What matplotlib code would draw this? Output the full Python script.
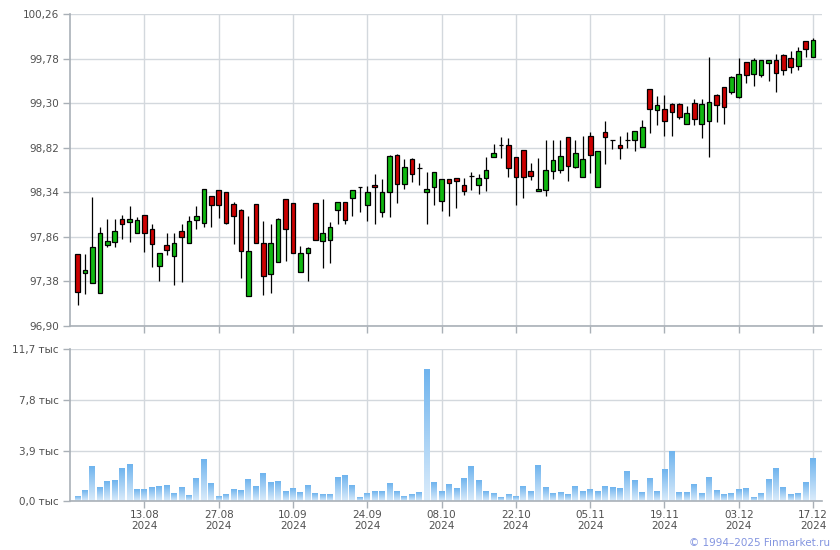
import numpy as np
import pandas as pd
import matplotlib
matplotlib.use('Agg')
import matplotlib.pyplot as plt
from matplotlib.colors import LinearSegmentedColormap

# -------------------------------
# Данные (цены и объёмы)
# -------------------------------

open_ = [97.68, 97.47, 97.36, 97.26, 97.77, 97.81, 98.05, 98.02, 97.90, 98.09,
         97.94, 97.55, 97.77, 97.65, 97.92, 97.79, 98.04, 98.01, 98.30, 98.36,
         98.34, 98.21, 98.15, 97.22, 98.21, 97.79, 97.46, 97.59, 98.27, 98.22,
         97.48, 97.69, 98.22, 97.82, 97.83, 98.15, 98.24, 98.28, 98.40, 98.20,
         98.42, 98.13, 98.34, 98.74, 98.43, 98.70, 98.60, 98.34, 98.40, 98.25,
         98.48, 98.49, 98.42, 98.52, 98.42, 98.49, 98.72, 98.85, 98.85, 98.72,
         98.80, 98.57, 98.35, 98.37, 98.57, 98.58, 98.93, 98.61, 98.51, 98.95,
         98.40, 98.99, 98.90, 98.85, 98.90, 98.90, 98.83, 99.45, 99.23, 99.24,
         99.29, 99.29, 99.08, 99.30, 99.08, 99.11, 99.39, 99.47, 99.42, 99.37,
         99.74, 99.61, 99.60, 99.73, 99.77, 99.82, 99.79, 99.70, 99.97, 99.80]
high = [97.68, 97.68, 98.29, 97.97, 98.05, 98.05, 98.10, 98.19, 98.07, 98.09,
        98.00, 97.69, 97.90, 97.90, 98.00, 98.08, 98.19, 98.38, 98.30, 98.36,
        98.34, 98.24, 98.16, 98.09, 98.21, 98.03, 98.00, 98.06, 98.27, 98.22,
        97.76, 97.75, 98.22, 98.27, 98.02, 98.23, 98.24, 98.37, 98.40, 98.41,
        98.54, 98.48, 98.74, 98.75, 98.70, 98.71, 98.66, 98.56, 98.56, 98.48,
        98.48, 98.49, 98.49, 98.56, 98.54, 98.72, 98.86, 98.94, 98.93, 98.72,
        98.80, 98.66, 98.71, 98.90, 98.90, 98.90, 98.93, 98.90, 98.95, 98.99,
        98.79, 99.11, 98.90, 98.95, 98.99, 99.00, 99.12, 99.45, 99.38, 99.39,
        99.30, 99.30, 99.27, 99.34, 99.35, 99.80, 99.40, 99.47, 99.59, 99.79,
        99.74, 99.79, 99.77, 99.77, 99.83, 99.83, 99.86, 99.91, 99.97, 100.00]
low = [97.13, 97.24, 97.36, 97.26, 97.75, 97.75, 97.84, 97.81, 97.90, 97.70,
       97.54, 97.39, 97.67, 97.34, 97.37, 97.79, 97.94, 97.97, 97.97, 98.06,
       98.00, 97.78, 97.42, 97.22, 97.79, 97.23, 97.26, 97.59, 97.60, 97.69,
       97.48, 97.39, 97.83, 97.53, 97.58, 98.00, 98.00, 98.08, 98.13, 98.03,
       98.00, 98.07, 98.07, 98.22, 98.38, 98.45, 98.42, 98.00, 98.20, 98.14,
       98.09, 98.17, 98.31, 98.36, 98.32, 98.35, 98.72, 98.71, 98.50, 98.20,
       98.28, 98.47, 98.35, 98.30, 98.48, 98.55, 98.46, 98.60, 98.51, 98.55,
       98.40, 98.64, 98.81, 98.70, 98.82, 98.79, 98.83, 98.98, 99.06, 98.95,
       98.95, 99.13, 99.08, 99.06, 98.93, 98.72, 99.10, 99.08, 99.40, 99.36,
       99.52, 99.49, 99.58, 99.54, 99.42, 99.60, 99.62, 99.66, 99.80, 99.80]
close = [97.27, 97.50, 97.75, 97.90, 97.82, 97.92, 98.00, 98.05, 98.04, 97.90,
         97.78, 97.69, 97.72, 97.79, 97.86, 98.03, 98.09, 98.38, 98.20, 98.20,
         98.01, 98.08, 97.71, 97.71, 97.79, 97.44, 97.79, 98.05, 97.95, 97.69,
         97.69, 97.74, 97.83, 97.90, 97.97, 98.23, 98.04, 98.36, 98.40, 98.34,
         98.40, 98.34, 98.73, 98.43, 98.61, 98.54, 98.60, 98.38, 98.56, 98.48,
         98.44, 98.46, 98.35, 98.52, 98.49, 98.58, 98.76, 98.85, 98.60, 98.50,
         98.50, 98.52, 98.37, 98.58, 98.69, 98.73, 98.62, 98.76, 98.70, 98.74,
         98.78, 98.94, 98.90, 98.82, 98.90, 99.00, 99.04, 99.24, 99.28, 99.11,
         99.21, 99.15, 99.19, 99.13, 99.29, 99.31, 99.28, 99.26, 99.58, 99.61,
         99.60, 99.76, 99.77, 99.77, 99.62, 99.66, 99.69, 99.86, 99.88, 99.98]
# объём, тыс.
volume = [0.33, 0.80, 2.64, 1.03, 1.49, 1.57, 2.49, 2.80, 0.87, 0.87,
          1.03, 1.10, 1.18, 0.56, 1.03, 0.41, 1.72, 3.18, 1.33, 0.33,
          0.49, 0.87, 0.80, 1.64, 1.10, 2.10, 1.41, 1.49, 0.72, 0.95,
          0.64, 1.18, 0.56, 0.49, 0.49, 1.80, 1.95, 1.18, 0.26, 0.56,
          0.72, 0.72, 1.33, 0.72, 0.33, 0.49, 0.64, 10.11, 1.41, 0.72,
          1.26, 0.95, 1.72, 2.64, 1.57, 0.72, 0.56, 0.26, 0.49, 0.33,
          1.10, 0.72, 2.72, 1.03, 0.56, 0.64, 0.49, 1.10, 0.72, 0.87,
          0.72, 1.10, 1.03, 0.95, 2.26, 1.57, 0.64, 1.72, 0.72, 2.41,
          3.80, 0.64, 0.64, 1.26, 0.56, 1.80, 0.80, 0.49, 0.56, 0.87,
          0.95, 0.26, 0.56, 1.64, 2.49, 1.03, 0.49, 0.56, 1.41, 3.26]

first_day = '2024-07-31'
tick_dates = ['2024-08-13', '2024-08-27', '2024-09-10', '2024-09-24', '2024-10-08',
              '2024-10-22', '2024-11-05', '2024-11-19', '2024-12-03', '2024-12-17']
price_ticks = [96.90, 97.38, 97.86, 98.34, 98.82, 99.30, 99.78, 100.26]
vol_ticks = [0.0, 3.9, 7.8, 11.7]

# -------------------------------
# Подготовка
# -------------------------------

dates = pd.bdate_range(first_day, periods=len(close))
x = np.arange(len(close))
tick_pos = [dates.get_loc(pd.Timestamp(d)) for d in tick_dates]
tick_labels = [pd.Timestamp(d).strftime('%d.%m\n%Y') for d in tick_dates]

o = np.array(open_)
c = np.array(close)
up = c >= o

grid_col = '#d3d8dd'
spine_col = '#a9b0b7'
text_col = '#505050'

plt.rcParams['font.family'] = ['DejaVu Sans']
plt.rcParams['font.size'] = 7.5

fig = plt.figure(figsize=(8.4, 5.5), dpi=100)
ax1 = fig.add_axes([70 / 840, 1 - 326 / 550, 752 / 840, 312 / 550])
ax2 = fig.add_axes([70 / 840, 1 - 501.3 / 550, 752 / 840, 152 / 550])


def oformit(ax, yticks, fmt):
    """Общий стиль осей."""
    for s in ['top', 'right']:
        ax.spines[s].set_visible(False)
    for s in ['left', 'bottom']:
        ax.spines[s].set_color(spine_col)
        ax.spines[s].set_linewidth(1.2)
    ax.set_yticks(yticks)
    ax.set_yticklabels([fmt(v) for v in yticks])
    ax.set_xticks(tick_pos)
    ax.grid(True, color=grid_col, linewidth=1.0)
    ax.set_axisbelow(True)
    ax.tick_params(colors=spine_col, labelcolor=text_col, length=5, width=1.0, pad=3)
    ax.tick_params(axis='x', pad=1)
    ax.set_xlim(-1.02, len(close) - 1 + 1.2)


# -------------------------------
# Свечи
# -------------------------------

ax1.vlines(x, low, high, color='black', linewidth=0.9, zorder=2)
body_bottom = np.minimum(o, c)
body_height = np.abs(c - o)
colors = np.where(up, '#10b810', '#cc0000')
ax1.bar(x, body_height, bottom=body_bottom, width=0.62, color=colors,
        edgecolor='black', linewidth=0.9, zorder=3)
ax1.set_ylim(price_ticks[0], price_ticks[-1])
oformit(ax1, price_ticks, lambda v: f'{v:.2f}'.replace('.', ','))
ax1.set_xticklabels([])

# -------------------------------
# Объёмы (градиентные столбики)
# -------------------------------

cmap = LinearSegmentedColormap.from_list('vol', ['#dbecfb', '#6fb4ee'])
grad = np.linspace(0, 1, 64).reshape(-1, 1)
w = 0.8
for xi, v in zip(x, volume):
    ax2.imshow(grad, cmap=cmap, origin='lower', aspect='auto',
               extent=[xi - w / 2, xi + w / 2, 0, v], zorder=2)
ax2.set_ylim(vol_ticks[0], vol_ticks[-1])
oformit(ax2, vol_ticks, lambda v: f'{v:.1f}'.replace('.', ',') + ' тыс')
ax2.set_xticklabels(tick_labels, linespacing=1.2)

fig.text(830 / 840, 1 - 543 / 550, '© 1994–2025 Finmarket.ru', ha='right', va='center',
         color='#8395e0', fontsize=7.5)

fig.savefig('out.png', dpi=100)
